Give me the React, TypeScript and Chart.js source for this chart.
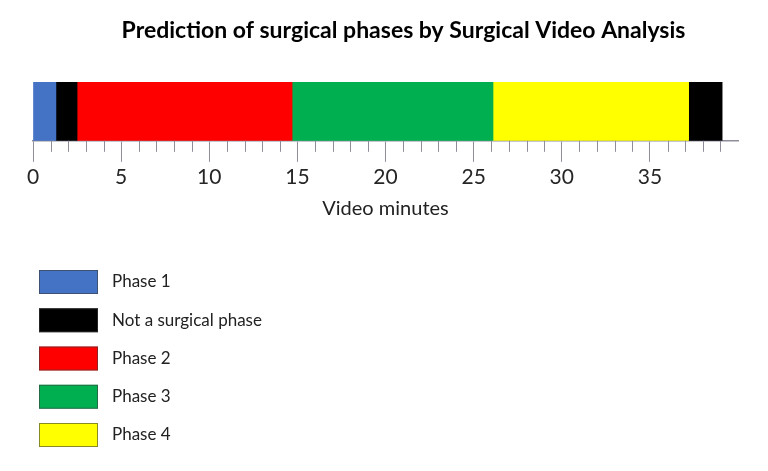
import { useEffect, useRef } from "react";
import { Chart, registerables } from "chart.js";

Chart.register(...registerables);

// one horizontal bar, split into consecutive phase segments (minutes)
const categories = ["Video"];
const segmentLabels = [
  "Phase 1",
  "Not a surgical phase",
  "Phase 2",
  "Phase 3",
  "Phase 4",
  "Not a surgical phase",
];
const segmentMinutes = [1.3, 1.2, 12.2, 11.4, 11.1, 1.9];
const segmentColors = ["#4472C4", "#000000", "#FF0000", "#00B050", "#FFFF00", "#000000"];
const majorTickLabels = [0, 5, 10, 15, 20, 25, 30, 35];

const FONT = "Lato, 'Open Sans', sans-serif";
const AXIS_GRAY = "#8d8d9c";

// the original title is centred a little right of the plot
const nudgeTitle = {
  id: "nudgeTitle",
  afterLayout(chart: any) {
    if (chart.titleBlock) chart.titleBlock.left += 36;
  },
};

// small ticks every minute between the labelled ones
const minorTicks = {
  id: "minorTicks",
  afterDraw(chart: any) {
    const x = chart.scales.x;
    const { ctx, chartArea } = chart;
    ctx.save();
    ctx.strokeStyle = AXIS_GRAY;
    ctx.lineWidth = 1;
    for (let v = 1; v < x.max; v++) {
      if (majorTickLabels.includes(v)) continue;
      const px = Math.round(x.getPixelForValue(v)) + 0.5;
      ctx.beginPath();
      ctx.moveTo(px, chartArea.bottom);
      ctx.lineTo(px, chartArea.bottom + 11);
      ctx.stroke();
    }
    ctx.restore();
  },
};

// stacked legend under the chart, one row per distinct label
const sideLegend = {
  id: "sideLegend",
  afterDraw(chart: any) {
    const { ctx } = chart;
    const seen: string[] = [];
    const items: { label: string; color: string }[] = [];
    chart.data.datasets.forEach((ds: any) => {
      if (seen.includes(ds.label)) return;
      seen.push(ds.label);
      items.push({ label: ds.label, color: ds.backgroundColor });
    });
    ctx.save();
    ctx.font = `17px ${FONT}`;
    ctx.textBaseline = "middle";
    items.forEach((it, i) => {
      const top = 270 + i * 38.25;
      ctx.fillStyle = it.color;
      ctx.fillRect(39, top, 59, 24);
      ctx.strokeStyle = "rgba(60,60,60,0.6)";
      ctx.lineWidth = 1;
      ctx.strokeRect(39.5, top + 0.5, 58, 23);
      ctx.fillStyle = "#222";
      ctx.fillText(it.label, 112, top + 12);
    });
    ctx.restore();
  },
};

export default function App() {
  const canvasRef = useRef<HTMLCanvasElement>(null);

  useEffect(() => {
    const ctx = canvasRef.current;
    if (!ctx) return;

    const chart = new Chart(ctx, {
      type: "bar",
      data: {
        labels: categories,
        datasets: segmentLabels.map((label, i) => ({
          label,
          data: [segmentMinutes[i]],
          backgroundColor: segmentColors[i],
          borderWidth: 0,
          barPercentage: 1,
          categoryPercentage: 1,
        })),
      },
      options: {
        indexAxis: "y",
        animation: false,
        responsive: true,
        maintainAspectRatio: false,
        layout: { padding: { left: 33, right: 30, top: 0, bottom: 246 } },
        plugins: {
          legend: { display: false },
          tooltip: { enabled: false },
          title: {
            display: true,
            text: "Prediction of surgical phases by Surgical Video Analysis",
            color: "#000",
            font: { family: FONT, size: 23, weight: "bold" },
            padding: { top: 17, bottom: 37.4 },
          },
        },
        scales: {
          x: {
            type: "linear",
            stacked: true,
            min: 0,
            max: 40,
            border: { display: true, color: AXIS_GRAY, width: 1.5 },
            grid: {
              drawOnChartArea: false,
              drawTicks: true,
              tickLength: 21,
              tickColor: (c: any) =>
                majorTickLabels.includes(c.tick?.value) ? AXIS_GRAY : "rgba(0,0,0,0)",
            },
            ticks: {
              stepSize: 1,
              autoSkip: false,
              maxRotation: 0,
              padding: 3,
              color: "#262626",
              font: { family: FONT, size: 21 },
              callback: (v: any) => (majorTickLabels.includes(v) ? String(v) : ""),
            },
            title: {
              display: true,
              text: "Video minutes",
              color: "#222",
              font: { family: FONT, size: 20 },
              padding: { top: 4, bottom: 4 },
            },
          },
          y: {
            type: "category",
            stacked: true,
            display: false,
          },
        },
      },
      plugins: [nudgeTitle, minorTicks, sideLegend],
    });

    return () => {
      chart.destroy();
    };
  }, []);

  return (
    <div style={{ position: "fixed", left: 0, top: 0, width: 768, height: 471, background: "#fff" }}>
      <canvas ref={canvasRef}></canvas>
    </div>
  );
}
